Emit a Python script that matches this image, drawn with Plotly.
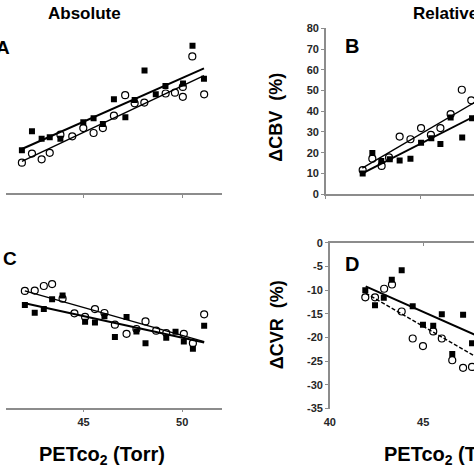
import plotly.graph_objects as go

# ---- data ----
# A: absolute CBV (filled squares / open circles)
petco2_a_sq = [41.88, 42.39, 42.88, 43.29, 43.83, 44.99, 45.51, 45.98, 46.54, 47.12, 47.59, 48.09,
               48.66, 49.15, 50.04, 50.52, 51.10]
cbv_abs_sq = [0.52, 0.75, 0.66, 0.68, 0.66, 0.86, 0.91, 0.84, 1.14, 0.92, 1.13, 1.49,
              1.20, 1.30, 1.33, 1.79, 1.39]
petco2_a_ci = [41.88, 42.39, 42.88, 43.29, 43.83, 44.43, 44.99, 45.51, 45.98, 46.54, 47.11, 47.59,
               48.08, 49.16, 49.63, 50.03, 50.03, 50.51, 51.11]
cbv_abs_ci = [0.37, 0.48, 0.41, 0.49, 0.71, 0.69, 0.79, 0.73, 0.79, 0.94, 1.19, 1.09,
              1.10, 1.21, 1.22, 1.29, 1.17, 1.66, 1.20]
fit_x_a = [41.88, 51.10]
fit_a_sq = [0.536, 1.515]
fit_a_ci = [0.387, 1.428]

# B: relative CBV (%)
petco2_b_sq = [41.94, 42.45, 42.92, 43.37, 43.89, 44.46, 45.02, 45.56, 46.04, 46.58, 47.19, 47.71]
cbv_rel_sq = [10.0, 19.8, 16.0, 16.8, 16.2, 17.1, 24.8, 27.0, 24.2, 37.0, 27.3, 36.6]
petco2_b_ci = [41.94, 42.45, 42.94, 43.33, 43.89, 44.46, 45.02, 45.54, 46.04, 46.58, 47.17, 47.67]
cbv_rel_ci = [11.6, 17.1, 13.6, 17.7, 27.8, 26.5, 31.9, 28.6, 31.9, 38.6, 50.4, 45.3]
fit_x_b = [41.92, 51.10]
fit_b_sq = [10.0, 52.8]
fit_b_ci = [12.5, 61.7]

# C: absolute CVR
petco2_c_sq = [42.03, 42.53, 42.99, 43.41, 43.94, 45.08, 45.58, 46.06, 46.59, 47.18, 47.68, 48.14,
               49.19, 49.66, 50.08, 50.54, 51.11]
cvr_abs_sq = [-0.377, -0.424, -0.401, -0.343, -0.320, -0.479, -0.483, -0.446, -0.572, -0.450, -0.538, -0.609,
              -0.576, -0.540, -0.599, -0.643, -0.503]
petco2_c_ci = [42.03, 42.53, 42.99, 43.41, 43.94, 44.54, 45.08, 45.58, 46.06, 46.59, 47.18, 47.68,
               48.14, 48.68, 49.19, 50.08, 50.54, 51.11]
cvr_abs_ci = [-0.292, -0.290, -0.262, -0.250, -0.339, -0.428, -0.450, -0.402, -0.426, -0.497, -0.552, -0.523,
              -0.477, -0.533, -0.548, -0.552, -0.609, -0.434]
fit_x_c = [42.03, 51.11]
fit_c_sq = [-0.367, -0.605]
fit_c_ci = [-0.292, -0.600]

# D: relative CVR (%)
petco2_d_sq = [41.90, 42.42, 42.89, 43.32, 43.85, 44.44, 44.99, 45.54, 46.00, 46.56, 47.14, 47.62]
cvr_rel_sq = [-10.0, -13.2, -11.6, -7.8, -5.8, -13.4, -17.3, -17.5, -15.1, -23.5, -15.2, -21.2]
petco2_d_ci = [41.90, 42.42, 42.91, 43.33, 43.85, 44.44, 44.99, 45.54, 46.00, 46.56, 47.14, 47.62]
cvr_rel_ci = [-11.5, -11.5, -9.7, -8.8, -14.5, -20.2, -21.8, -18.7, -20.2, -24.8, -26.4, -26.2]
fit_x_d = [41.92, 51.10]
fit_d_sq = [-9.2, -25.2]
fit_d_ci = [-10.6, -31.5]

x_ticks = [40, 45, 50]
cbv_ticks = [0, 10, 20, 30, 40, 50, 60, 70, 80]
cvr_ticks = [0, -5, -10, -15, -20, -25, -30, -35]

W = 474
FONT = "Arial, Liberation Sans, sans-serif"
AX = "#8c8c8c"
TXT = "#262626"


def px(v):
    return v / W


def py(v):
    return 1 - v / W


def bold_labels(vals):
    return ["<b>%d</b>" % v for v in vals]


fig = go.Figure()


def add_panel(xa, ya, xs_sq, ys_sq, xs_ci, ys_ci, fx, fsq, fci, dash_ci="solid", fit_xa=None):
    fig.add_trace(go.Scatter(x=fx, y=fsq, mode="lines", xaxis=xa, yaxis=ya,
                             line=dict(color="black", width=2)))
    fig.add_trace(go.Scatter(x=fx, y=fci, mode="lines", xaxis=fit_xa or xa, yaxis=ya,
                             line=dict(color="black", width=1.4, dash=dash_ci)))
    fig.add_trace(go.Scatter(x=xs_sq, y=ys_sq, mode="markers", xaxis=xa, yaxis=ya,
                             marker=dict(symbol="square", size=6, color="black")))
    fig.add_trace(go.Scatter(x=xs_ci, y=ys_ci, mode="markers", xaxis=xa, yaxis=ya,
                             marker=dict(symbol="circle-open", size=7, color="black",
                                         line=dict(width=1.2, color="black"))))


add_panel("x", "y", petco2_a_sq, cbv_abs_sq, petco2_a_ci, cbv_abs_ci, fit_x_a, fit_a_sq, fit_a_ci)
add_panel("x2", "y2", petco2_b_sq, cbv_rel_sq, petco2_b_ci, cbv_rel_ci, fit_x_b, fit_b_sq, fit_b_ci)
add_panel("x3", "y3", petco2_c_sq, cvr_abs_sq, petco2_c_ci, cvr_abs_ci, fit_x_c, fit_c_sq, fit_c_ci)
add_panel("x4", "y4", petco2_d_sq, cvr_rel_sq, petco2_d_ci, cvr_rel_ci, fit_x_d, fit_d_sq, fit_d_ci,
          dash_ci="4px,2px", fit_xa="x5")

tickfont = dict(family=FONT, size=11, color=TXT)
xbase = dict(showgrid=False, zeroline=False, showline=True, linecolor=AX, linewidth=1.5,
             ticks="outside", ticklen=3, tickwidth=1.2, tickcolor=AX, tickvals=x_ticks,
             ticktext=bold_labels(x_ticks), tickfont=tickfont)
ybase = dict(showgrid=False, zeroline=False, showline=True, linecolor=AX, linewidth=1.5,
             ticks="outside", ticklen=3, tickwidth=1.2, tickcolor=AX, tickfont=tickfont)

fig.update_layout(
    width=W, height=W,
    margin=dict(l=0, r=0, t=0, b=0),
    paper_bgcolor="white", plot_bgcolor="white",
    showlegend=False,
    font=dict(family=FONT, color="black"),
    xaxis=dict(xbase, domain=[0, px(219)], range=[41.075, 52.025], anchor="y", showticklabels=False),
    yaxis=dict(domain=[py(192), py(23)], range=[0, 2], anchor="x", visible=False),
    xaxis2=dict(xbase, domain=[px(324), 1], range=[40, 47.8125], anchor="y2", showticklabels=False),
    yaxis2=dict(ybase, domain=[py(193), py(23)], range=[0, 80], anchor="x2",
                tickvals=cbv_ticks, ticktext=bold_labels(cbv_ticks)),
    xaxis3=dict(xbase, domain=[0, px(219)], range=[41.075, 52.025], anchor="y3"),
    yaxis3=dict(domain=[py(412), py(243)], range=[-1, 0], anchor="x3", visible=False),
    xaxis4=dict(xbase, domain=[px(328), 1], range=[40, 47.725], anchor="y4", side="top",
                ticks="inside", showticklabels=False),
    xaxis5=dict(showgrid=False, zeroline=False, showline=False, ticks="", overlaying="x4",
                matches="x4", anchor="y4", side="bottom", tickvals=x_ticks,
                ticktext=bold_labels(x_ticks), tickfont=tickfont, ticklabelstandoff=5),
    yaxis4=dict(ybase, domain=[py(413), py(243)], range=[-35, 0], anchor="x4",
                tickvals=cvr_ticks, ticktext=bold_labels(cvr_ticks)),
)

bold = dict(family=FONT, color="black", weight="bold")
xlab = "PETco<sub>2</sub> (Torr)"
notes = [
    dict(text="Absolute", x=px(80), y=py(8), xanchor="center", size=17),
    dict(text="Relative", x=px(410), y=py(8), xanchor="left", size=17),
    dict(text="A", x=px(6), y=py(43), xanchor="right", size=19),
    dict(text="B", x=px(341), y=py(41), xanchor="left", size=20),
    dict(text="C", x=px(13), y=py(259), xanchor="right", size=19),
    dict(text="D", x=px(341), y=py(265), xanchor="left", size=20),
    dict(text=xlab, x=px(97), y=py(461), xanchor="center", size=20),
    dict(text=xlab, x=px(381), y=py(461), xanchor="left", size=20),
]
for n in notes:
    fig.add_annotation(text=n["text"], x=n["x"], y=n["y"], xref="paper", yref="paper",
                       xanchor=n["xanchor"], yanchor="middle", showarrow=False,
                       font=dict(bold, size=n["size"]))

for txt, yy in [("\u0394CBV\u00a0\u00a0(%)", 114), ("\u0394CVR\u00a0\u00a0(%)", 327)]:
    fig.add_annotation(text=txt, x=px(274), y=py(yy), xref="paper", yref="paper",
                       xanchor="center", yanchor="middle", textangle=-90, showarrow=False,
                       font=dict(bold, size=18))

# the page's default body margin would push the figure off the window
fig.write_html("out.html", config={"displayModeBar": False},
               post_script="document.body.style.margin='0';document.body.style.overflow='hidden';")
